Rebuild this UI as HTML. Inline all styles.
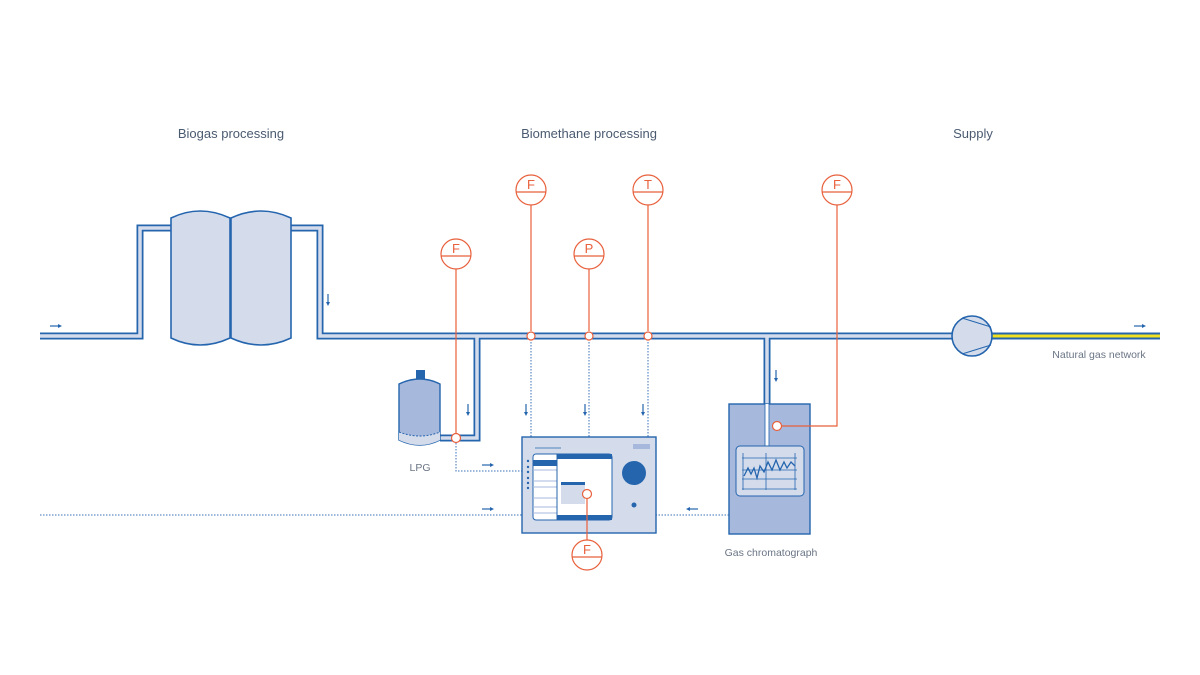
<!DOCTYPE html>
<html><head><style>body{margin:0;background:#fff}svg{display:block}text{font-family:"Liberation Sans",sans-serif}</style></head><body>
<svg width="1200" height="675" viewBox="0 0 1200 675" xmlns="http://www.w3.org/2000/svg">
<defs>
<g id="arr"><line x1="-6" y1="0" x2="4" y2="0" stroke="#2565ae" stroke-width="1.2"/><path d="M2,-2 L6,0 L2,2Z" fill="#2565ae"/></g>
</defs>
<g fill="#4a5a70" font-size="13" text-anchor="middle">
<text x="231" y="138">Biogas processing</text>
<text x="589" y="138">Biomethane processing</text>
<text x="973" y="138">Supply</text>
</g>
<g fill="#6a7585" font-size="10.5" text-anchor="middle">
<text x="420" y="471">LPG</text>
<text x="771" y="556">Gas chromatograph</text>
<text x="1099" y="358">Natural gas network</text>
</g>
<!-- dotted lines -->
<g stroke="#3a70b5" stroke-width="1" stroke-dasharray="1.5,1.5" fill="none">
<path d="M456,440 V471 H522"/>
<path d="M40,515 H522"/>
<path d="M770,496 V515 H656"/>
<path d="M531,336 V437 M589,336 V437 M648,336 V437"/>
</g>
<!-- pipes -->
<g fill="none" stroke-linejoin="miter">
<path d="M40,336 H140 V228 H172 M290,228 H320 V336 H952 M477,336 V438 H440 M767,336 V445" stroke="#2565ae" stroke-width="7"/>
<path d="M40,336 H140 V228 H172 M290,228 H320 V336 H952 M477,336 V438 H440 M767,336 V445" stroke="#d4dcec" stroke-width="3.5"/>
<line x1="990" y1="336" x2="1160" y2="336" stroke="#2565ae" stroke-width="7"/>
<line x1="990" y1="336" x2="1160" y2="336" stroke="#f0e020" stroke-width="3"/>
</g>
<!-- tanks -->
<g fill="#d4dcec" stroke="#2565ae" stroke-width="1.6">
<path d="M171,218 Q200,204 230,218 V338 Q200,352 171,338Z"/>
<path d="M231,218 Q261,204 291,218 V338 Q261,352 231,338Z"/>
</g>
<!-- LPG -->
<rect x="416" y="370" width="9" height="12" fill="#2565ae"/>
<path d="M399,384 Q420,374 440,384 V440 Q420,450 399,440Z" fill="#a6b8dc" stroke="#2565ae" stroke-width="1.4"/>
<path d="M399,432 Q420,440 440,432 V440 Q420,450 399,440Z" fill="#d4dcec" stroke="none"/>
<path d="M399,432 Q420,440 440,432" fill="none" stroke="#2565ae" stroke-width="1" stroke-dasharray="2,1.5"/>
<!-- pump -->
<circle cx="972" cy="336" r="20" fill="#d4dcec" stroke="#2565ae" stroke-width="1.6"/>
<path d="M962,318 L991,327 M962,354 L991,345" stroke="#2565ae" stroke-width="1" fill="none"/>
<!-- GC -->
<rect x="729" y="404" width="81" height="130" fill="#a6b8dc" stroke="#2565ae" stroke-width="1.4"/>
<line x1="767" y1="404" x2="767" y2="446" stroke="#fff" stroke-width="3.5"/>
<line x1="765" y1="404" x2="765" y2="446" stroke="#2565ae" stroke-width="0.8"/><line x1="769" y1="404" x2="769" y2="446" stroke="#2565ae" stroke-width="0.8"/>
<rect x="736" y="446" width="68" height="50" rx="4" fill="#d4dcec" stroke="#2565ae" stroke-width="1"/>
<g stroke="#2565ae" stroke-width="0.8" fill="none">
<path d="M743,453 V490 M766,453 V490 M795,453 V490 M742,458 H797 M742,470 H797 M742,479 H797 M742,489 H797"/>
<path d="M744,476 L748,468 L751,474 L754,468 L757,478 L760,466 L764,472 L768,462 L772,470 L776,460 L780,470 L784,462 L787,468 L791,462 L795,466" stroke-width="1.3"/>
</g>
<!-- analyzer -->
<rect x="522" y="437" width="134" height="96" fill="#d4dcec" stroke="#2565ae" stroke-width="1.4"/>
<line x1="535" y1="448" x2="561" y2="448" stroke="#2565ae" stroke-width="0.8"/>
<rect x="633" y="444" width="17" height="5" fill="#a6b8dc"/>
<g fill="#2565ae"><circle cx="528" cy="461" r="1.2"/><circle cx="528" cy="467" r="1.2"/><circle cx="528" cy="472" r="1.2"/><circle cx="528" cy="478" r="1.2"/><circle cx="528" cy="483" r="1.2"/><circle cx="528" cy="488" r="1.2"/></g>
<rect x="533" y="454" width="79" height="66" rx="3" fill="#fff" stroke="#2565ae" stroke-width="1"/>
<rect x="557" y="454" width="55" height="5" fill="#2565ae"/>
<rect x="557" y="515" width="55" height="5" fill="#2565ae"/>
<rect x="533" y="460" width="24" height="6" fill="#2565ae"/>
<g stroke="#a6b8dc" stroke-width="1"><path d="M533,470 H557 M533,481 H557 M533,487 H557 M533,498 H557 M533,507 H557 M533,513 H557"/></g>
<line x1="557" y1="454" x2="557" y2="520" stroke="#2565ae" stroke-width="1"/>
<rect x="561" y="482" width="24" height="22" fill="#d4dcec"/>
<rect x="561" y="482" width="24" height="3" fill="#2565ae"/>
<circle cx="634" cy="473" r="12" fill="#2565ae"/>
<circle cx="634" cy="505" r="2.5" fill="#2565ae"/>
<!-- arrows -->
<use href="#arr" x="56" y="326"/>
<use href="#arr" x="1140" y="326"/>
<use href="#arr" x="488" y="465"/>
<use href="#arr" x="488" y="509"/>
<g transform="translate(692,509) scale(-1,1)"><use href="#arr"/></g>
<g transform="rotate(90)">
<use href="#arr" x="300" y="-328"/>
<use href="#arr" x="410" y="-468"/>
<use href="#arr" x="410" y="-526"/>
<use href="#arr" x="410" y="-585"/>
<use href="#arr" x="410" y="-643"/>
<use href="#arr" x="376" y="-776"/>
</g>
<!-- instruments -->
<g stroke="#e8603c" stroke-width="1.2" fill="none">
<path d="M456,269 V433 M531,205 V331 M589,269 V331 M648,205 V331 M837,205 V426 H781 M587,540 V498"/>
<circle cx="456" cy="438" r="4.5" fill="#fff"/>
<circle cx="531" cy="336" r="4" fill="#fff"/>
<circle cx="589" cy="336" r="4" fill="#fff"/>
<circle cx="648" cy="336" r="4" fill="#fff"/>
<circle cx="777" cy="426" r="4.5" fill="#fff"/>
<circle cx="587" cy="494" r="4.5" fill="#fff"/>
<g fill="#fff">
<circle cx="456" cy="254" r="15"/><circle cx="531" cy="190" r="15"/><circle cx="589" cy="254" r="15"/>
<circle cx="648" cy="190" r="15"/><circle cx="837" cy="190" r="15"/><circle cx="587" cy="555" r="15"/>
</g>
<path d="M441,256 H471 M516,192 H546 M574,256 H604 M633,192 H663 M822,192 H852 M572,557 H602"/>
</g>
<g fill="#e8603c" font-size="13" text-anchor="middle">
<text x="456" y="253">F</text><text x="531" y="189">F</text><text x="589" y="253">P</text>
<text x="648" y="189">T</text><text x="837" y="189">F</text><text x="587" y="554">F</text>
</g>
</svg>
</body></html>
